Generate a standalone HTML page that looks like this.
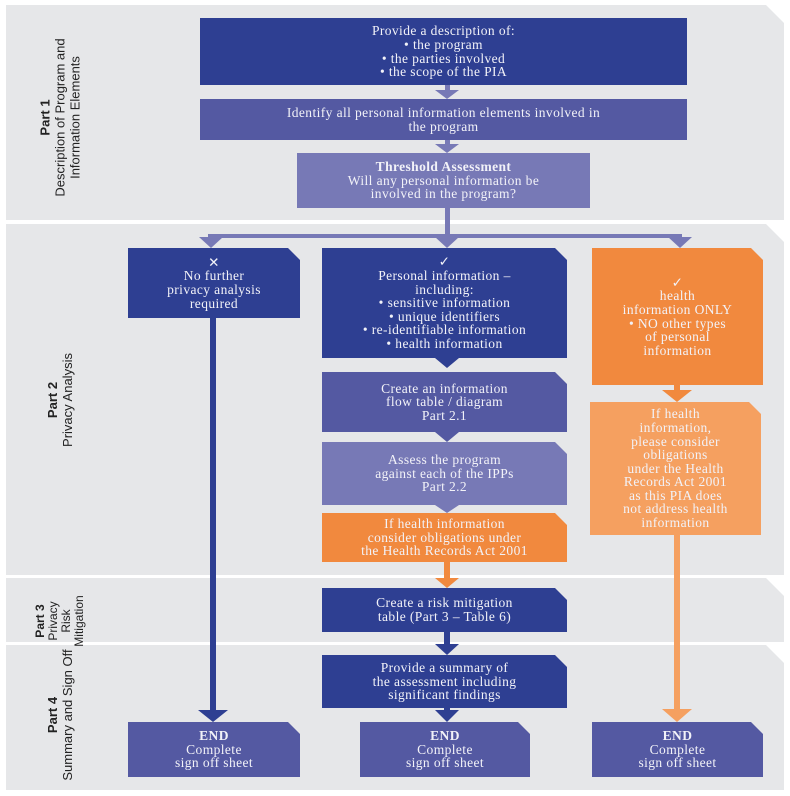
<!DOCTYPE html>
<html><head><meta charset="utf-8"><style>
body{margin:0;background:#fff;width:790px;height:796px;position:relative;overflow:hidden;font-family:"Liberation Serif",serif}
.band{position:absolute;left:6px;width:778px;background:#e6e7e9;clip-path:polygon(0 0,calc(100% - 18px) 0,100% 18px,100% 100%,0 100%)}
.b{position:absolute;color:#f2f2f8;text-align:center;font-size:13.5px;letter-spacing:0.4px;line-height:13.6px;display:flex;flex-direction:column;justify-content:center;clip-path:polygon(0 0,calc(100% - 12px) 0,100% 12px,100% 100%,0 100%)}
.d{background:#2e3f92}.m{background:#5459a2}.l{background:#7779b6}.o{background:#f1893e}.lo{background:#f5a060}
.lab{position:absolute;transform:rotate(-90deg);transform-origin:center;text-align:center;font-family:"Liberation Sans",sans-serif;font-size:13px;line-height:15px;color:#222;white-space:nowrap}
svg{position:absolute;left:0;top:0}
</style></head><body>
<div class="band" style="top:5px;height:215px"></div>
<div class="band" style="top:224px;height:351px"></div>
<div class="band" style="top:578px;height:64px"></div>
<div class="band" style="top:645px;height:145px"></div>

<div class="lab" style="left:-40px;top:95px;width:200px"><b>Part 1</b><br>Description of Program and<br>Information Elements</div>
<div class="lab" style="left:-20px;top:385px;width:160px"><b>Part 2</b><br>Privacy Analysis</div>
<div class="lab" style="left:20px;top:595px;width:80px;font-size:12px;line-height:13px"><b>Part 3</b><br>Privacy<br>Risk<br>Mitigation</div>
<div class="lab" style="left:-20px;top:700px;width:160px"><b>Part 4</b><br>Summary and Sign Off</div>

<svg width="790" height="796">
<g fill="#7779b6" stroke="none">
<rect x="445" y="208" width="5" height="28"/>
<rect x="208" y="234" width="474" height="4"/>
<polygon points="199,237 223,237 211,248"/><polygon points="435,237 459,237 447,248"/><polygon points="668,237 692,237 680,248"/>
<rect x="445" y="85" width="5" height="8"/><polygon points="435,90 459,90 447,99"/>
<rect x="445" y="140" width="5" height="7"/><polygon points="435,144 459,144 447,153"/>
</g>
<g fill="#2e3f92">
<rect x="210" y="318" width="6" height="395"/><polygon points="198,710 228,710 213,722"/>
<polygon points="435,358 459,358 447,368"/>
<rect x="444" y="632" width="6" height="15"/><polygon points="435,644 459,644 447,655"/>
<rect x="444" y="708" width="6" height="6"/><polygon points="435,710 459,710 447,722"/>
</g>
<polygon fill="#5459a2" points="435,432 459,432 447,442"/>
<polygon fill="#7779b6" points="435,505 459,505 447,513"/>
<g fill="#f1893e"><rect x="444" y="562" width="6" height="18"/><polygon points="435,578 459,578 447,588"/>
<rect x="674" y="385" width="6" height="8"/><polygon points="662,390 692,390 677,402"/></g>
<g fill="#f5a060"><rect x="674" y="535" width="6" height="177"/><polygon points="662,709 692,709 677,722"/></g>
</svg>

<div class="b d" style="left:200px;top:18px;width:487px;height:67px;clip-path:none">Provide a description of:<br>• the program<br>• the parties involved<br>• the scope of the PIA</div>
<div class="b m" style="left:200px;top:99px;width:487px;height:41px;clip-path:none">Identify all personal information elements involved in<br>the program</div>
<div class="b l" style="left:297px;top:153px;width:293px;height:55px;clip-path:none"><b>Threshold Assessment</b>Will any personal information be<br>involved in the program?</div>

<div class="b d" style="left:128px;top:248px;width:172px;height:70px">✕<br>No further<br>privacy analysis<br>required</div>
<div class="b d" style="left:322px;top:248px;width:245px;height:110px">✓<br>Personal information –<br>including:<br>• sensitive information<br>• unique identifiers<br>• re-identifiable information<br>• health information</div>
<div class="b o" style="left:592px;top:248px;width:171px;height:137px">✓<br>health<br>information ONLY<br>• NO other types<br>of personal<br>information</div>
<div class="b m" style="left:322px;top:372px;width:245px;height:60px">Create an information<br>flow table / diagram<br>Part 2.1</div>
<div class="b l" style="left:322px;top:442px;width:245px;height:63px">Assess the program<br>against each of the IPPs<br>Part 2.2</div>
<div class="b o" style="left:322px;top:513px;width:245px;height:49px">If health information<br>consider obligations under<br>the Health Records Act 2001</div>
<div class="b lo" style="left:590px;top:402px;width:171px;height:133px">If health<br>information,<br>please consider<br>obligations<br>under the Health<br>Records Act 2001<br>as this PIA does<br>not address health<br>information</div>
<div class="b d" style="left:322px;top:588px;width:245px;height:44px">Create a risk mitigation<br>table (Part 3 – Table 6)</div>
<div class="b d" style="left:322px;top:655px;width:245px;height:53px">Provide a summary of<br>the assessment including<br>significant findings</div>
<div class="b m" style="left:128px;top:722px;width:172px;height:55px"><b>END</b>Complete<br>sign off sheet</div>
<div class="b m" style="left:360px;top:722px;width:170px;height:55px"><b>END</b>Complete<br>sign off sheet</div>
<div class="b m" style="left:592px;top:722px;width:171px;height:55px"><b>END</b>Complete<br>sign off sheet</div>
</body></html>
